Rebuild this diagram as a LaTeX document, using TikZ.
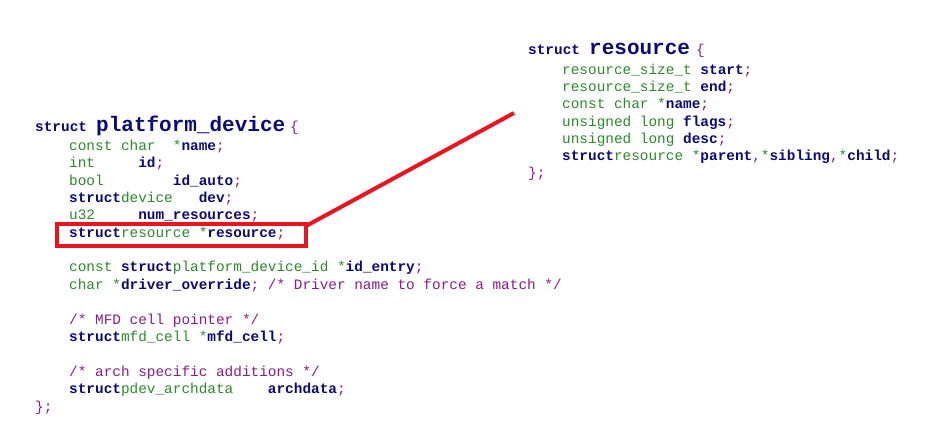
\documentclass[tikz,border=0pt]{standalone}
\usepackage{fontspec}
\setmonofont{Liberation Mono}
\definecolor{kw}{HTML}{0A0A78}
\definecolor{ty}{HTML}{2A8A2A}
\definecolor{pu}{HTML}{8A1A8A}
\definecolor{rd}{HTML}{E8141E}
\newcommand\K[1]{\textcolor{kw}{\bfseries #1}}
\newcommand\T[1]{\textcolor{ty}{#1}}
\newcommand\F[1]{\textcolor{kw}{\bfseries #1}}
\newcommand\Pu[1]{\textcolor{pu}{#1}}
\tikzset{code/.style={anchor=base west,inner sep=0pt,font=\ttfamily\fontsize{14.4}{17}\selectfont},
 ttl/.style={font=\ttfamily\bfseries\fontsize{21}{24}\selectfont,text=kw,anchor=base west,inner sep=0pt}}
\begin{document}
\begin{tikzpicture}[x=1pt,y=-1pt]
\useasboundingbox (0,0) rectangle (952,435);
% resource
\node[code] (r0) at (528,55) {\K{struct}};
\node[ttl] (r0t) at (589,55) {resource};
\node[code] (r0b) at (696,55) {\Pu{\{}};
\node[code] (r1) at (562,75) {\T{resource\_size\_t }\F{start}\Pu{;}};
\node[code] (r2) at (562,92) {\T{resource\_size\_t }\F{end}\Pu{;}};
\node[code] (r3) at (562,109) {\T{const char *}\F{name}\Pu{;}};
\node[code] (r4) at (562,127) {\T{unsigned long }\F{flags}\Pu{;}};
\node[code] (r5) at (562,144) {\T{unsigned long }\F{desc}\Pu{;}};
\node[code] (r6) at (562,161) {\K{struct}\T{ resource *}\F{parent}\Pu{,}\T{ *}\F{sibling}\Pu{,}\T{ *}\F{child}\Pu{;}};
\node[code] (r7) at (528,178) {\Pu{\};}};
% platform_device
\node[code] (p0) at (35,132) {\K{struct}};
\node[ttl] (p0t) at (96,132) {platform\_device};
\node[code] (p0b) at (290,132) {\Pu{\{}};
\node[code] (p1) at (69,151) {\T{const char~~*}\F{name}\Pu{;}};
\node[code] (p2) at (69,168) {\T{int~~~~~}\F{id}\Pu{;}};
\node[code] (p3) at (69,186) {\T{bool~~~~~~~~}\F{id\_auto}\Pu{;}};
\node[code] (p4) at (69,203) {\K{struct}\T{ device~~~}\F{dev}\Pu{;}};
\node[code] (p5) at (69,220) {\T{u32~~~~~}\F{num\_resources}\Pu{;}};
\node[code] (p6) at (69,238) {\K{struct}\T{ resource *}\F{resource}\Pu{;}};
\node[code] (p7) at (69,272) {\T{const }\K{struct}\T{ platform\_device\_id *}\F{id\_entry}\Pu{;}};
\node[code] (p8) at (69,290) {\T{char *}\F{driver\_override}\Pu{; /* Driver name to force a match */}};
\node[code] (p9) at (69,324) {\Pu{/* MFD cell pointer */}};
\node[code] (p10) at (69,341) {\K{struct}\T{ mfd\_cell *}\F{mfd\_cell}\Pu{;}};
\node[code] (p11) at (69,376) {\Pu{/* arch specific additions */}};
\node[code] (p12) at (69,393) {\K{struct}\T{ pdev\_archdata~~~~}\F{archdata}\Pu{;}};
\node[code] (p13) at (35,411) {\Pu{\};}};
% highlight
\draw[rd,line width=4pt,fill=white,fill opacity=0] (57,224) rectangle (306,246);
\coordinate (hb) at (306,226);
\coordinate (he) at (514,113);
\draw[rd,line width=4pt] (hb) -- (he);
\end{tikzpicture}
\end{document}
